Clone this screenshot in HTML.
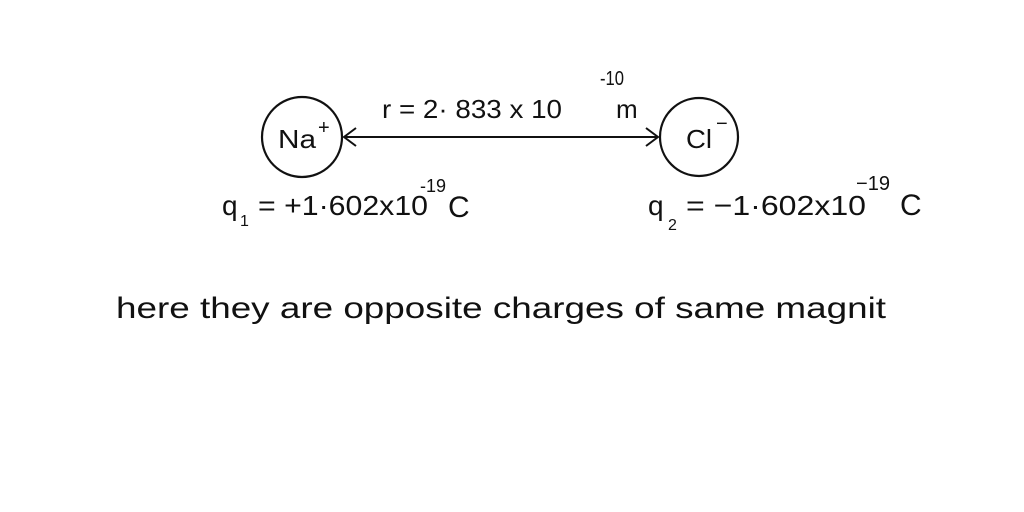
<!DOCTYPE html>
<html>
<head>
<meta charset="utf-8">
<style>
html,body{margin:0;padding:0;background:#fff;}
svg{display:block;}
text{font-family:"Liberation Sans","DejaVu Sans",sans-serif;fill:#111;}
</style>
</head>
<body>
<svg width="1024" height="512" viewBox="0 0 1024 512" xmlns="http://www.w3.org/2000/svg">
  <rect width="1024" height="512" fill="#fff"/>
  <!-- Na+ circle -->
  <circle cx="302" cy="137" r="40" fill="none" stroke="#111" stroke-width="2.2"/>
  <text x="278" y="148" font-size="26" textLength="38" lengthAdjust="spacingAndGlyphs">Na</text>
  <text x="318" y="134" font-size="20">+</text>
  <!-- Cl- circle -->
  <circle cx="699" cy="137" r="39" fill="none" stroke="#111" stroke-width="2.2"/>
  <text x="686" y="148" font-size="26" textLength="26" lengthAdjust="spacingAndGlyphs">Cl</text>
  <text x="716" y="130" font-size="20">−</text>
  <!-- arrow -->
  <line x1="344" y1="137" x2="658" y2="137" stroke="#111" stroke-width="2"/>
  <polyline points="356,128 344,137 356,146" fill="none" stroke="#111" stroke-width="2"/>
  <polyline points="646,128 658,137 646,146" fill="none" stroke="#111" stroke-width="2"/>
  <!-- r label -->
  <text x="382" y="118" font-size="26" textLength="180" lengthAdjust="spacingAndGlyphs">r = 2· 833 x 10</text>
  <text x="600" y="85" font-size="20" textLength="24" lengthAdjust="spacingAndGlyphs">-10</text>
  <text x="616" y="118" font-size="26">m</text>
  <!-- q1 -->
  <text x="222" y="215" font-size="28">q</text>
  <text x="240" y="226" font-size="16">1</text>
  <text x="258" y="215" font-size="28" textLength="170" lengthAdjust="spacingAndGlyphs">= +1·602x10</text>
  <text x="420" y="192" font-size="18" textLength="26" lengthAdjust="spacingAndGlyphs">-19</text>
  <text x="448" y="217" font-size="30">C</text>
  <!-- q2 -->
  <text x="648" y="215" font-size="28">q</text>
  <text x="668" y="230" font-size="16">2</text>
  <text x="686" y="215" font-size="28" textLength="180" lengthAdjust="spacingAndGlyphs">= −1·602x10</text>
  <text x="856" y="190" font-size="20" textLength="34" lengthAdjust="spacingAndGlyphs">−19</text>
  <text x="900" y="215" font-size="30">C</text>
  <!-- sentence -->
  <text x="116" y="318" font-size="30" textLength="770" lengthAdjust="spacingAndGlyphs">here  they  are  opposite  charges  of  same  magnit</text>
</svg>
</body>
</html>
